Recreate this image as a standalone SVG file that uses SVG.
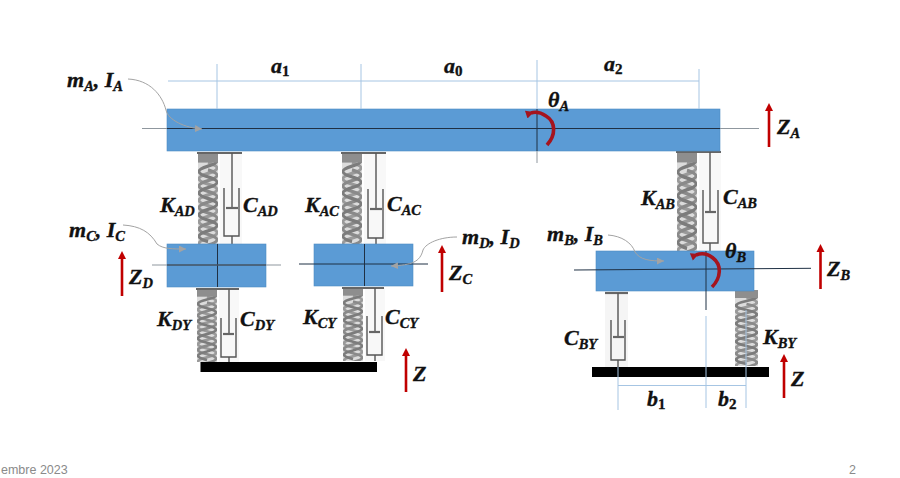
<svg xmlns="http://www.w3.org/2000/svg" xmlns:xlink="http://www.w3.org/1999/xlink" width="900" height="478" viewBox="0 0 900 478">
<style>
text{font-family:"Liberation Serif","DejaVu Serif",serif;font-weight:bold;font-style:italic;fill:#111;stroke:#111;stroke-width:.35px}
.m{font-size:22px}
.s{font-size:14.500px}
.n{font-size:15px;font-style:normal}
.foot{font-family:"Liberation Sans",Arial,sans-serif;font-weight:normal;font-style:normal;font-size:12.500px;fill:#8a8a8a;stroke:none}
.bar{fill:#5b9bd5;stroke:#4f8cc4;stroke-width:.6}
.dim{stroke:#a6c5e3;stroke-width:1;fill:none}
.axis{stroke:#1f3044;stroke-width:1;fill:none}
.axisg{stroke:#8f979e;stroke-width:1;fill:none}
.lead{stroke:#a3a3a3;stroke-width:1;fill:none;marker-end:url(#ga)}
.up{stroke:#c00000;stroke-width:2.6;fill:none;marker-end:url(#ra)}
.rot{stroke:#a5141e;stroke-width:3.6;fill:none;marker-end:url(#rb)}
.ground{fill:#000}
.dp{stroke:#555;stroke-width:1.4;fill:none}
.cap{stroke:#666;stroke-width:2.2;fill:none}
</style>
<defs>
<marker id="ga" markerWidth="9" markerHeight="8" refX="7" refY="3.5" orient="auto" markerUnits="userSpaceOnUse"><path d="M0 0L7 3.5L0 7z" fill="#a3a3a3"/></marker>
<marker id="ra" markerWidth="9" markerHeight="9" refX="1" refY="4.500" orient="auto" markerUnits="userSpaceOnUse"><path d="M0 0.500L8 4.500L0 8.500z" fill="#c00000"/></marker>
<marker id="rb" markerWidth="10" markerHeight="10" refX="3" refY="4" orient="auto" markerUnits="userSpaceOnUse"><path d="M0 4L8 0L8 8z" fill="#a5141e"/></marker>
<filter id="soft" x="-10%" y="-5%" width="120%" height="110%"><feGaussianBlur stdDeviation=".6"/></filter>
<symbol id="spring" viewBox="0 0 20 76" preserveAspectRatio="none" overflow="hidden">
<g filter="url(#soft)">
<rect x="0" y="0" width="20" height="76" fill="#dcdcdc"/>
<path d="M10 8Q28 12.500 10 17T10 26T10 35T10 44T10 53T10 62T10 71T10 80" fill="none" stroke="#9a9a9a" stroke-width="2.800"/>
<path d="M10 14Q28 18.500 10 23T10 32T10 41T10 50T10 59T10 68T10 77" fill="none" stroke="#8a8a8a" stroke-width="2.800"/>
<path d="M10 2Q28 6.500 10 11T10 20T10 29T10 38T10 47T10 56T10 65T10 74" fill="none" stroke="#7c7c7c" stroke-width="2.800"/>
<rect x="0" y="0" width="20" height="8" fill="#8e8e8e"/>
</g>
</symbol>
</defs>
<rect width="900" height="478" fill="#fff"/>

<g id="suspension">
<g id="spring-KAD"><use href="#spring" x="198" y="153" width="20" height="91"/></g>
<g id="damper-CAD"><rect x="220" y="153" width="22" height="91" fill="#f8f8f8"/><path class="cap" d="M197 153H242"/><path class="dp" d="M232 153V207M224 188V236H239V188M232 236V244"/><path class="cap" d="M226 208H238"/></g>
<g id="spring-KAC"><use href="#spring" x="342" y="153" width="20" height="91"/></g>
<g id="damper-CAC"><rect x="364" y="153" width="22" height="91" fill="#f8f8f8"/><path class="cap" d="M341 153H386"/><path class="dp" d="M376 153V208M368 189V238H383V189M376 238V244"/><path class="cap" d="M370 209H382"/></g>
<g id="spring-KAB"><use href="#spring" x="677" y="152" width="20" height="99"/></g>
<g id="damper-CAB"><rect x="699" y="152" width="22" height="99" fill="#f8f8f8"/><path class="cap" d="M676 152H721"/><path class="dp" d="M710 152V211M703 190V243H718V190M710 243V251"/><path class="cap" d="M705 212H716"/></g>
<g id="spring-KDY"><use href="#spring" x="197" y="289" width="20" height="73"/></g>
<g id="damper-CDY"><rect x="219" y="289" width="20" height="73" fill="#f8f8f8"/><path class="cap" d="M196 289H239"/><path class="dp" d="M229 289V333M221 318V357H236V318M229 357V362"/><path class="cap" d="M223 334H234"/></g>
<g id="spring-KCY"><use href="#spring" x="343" y="288" width="20" height="73"/></g>
<g id="damper-CCY"><rect x="365" y="288" width="20" height="73" fill="#f8f8f8"/><path class="cap" d="M342 288H384"/><path class="dp" d="M375 288V331M367 316V355H382V316M375 355V361"/><path class="cap" d="M369 332H380"/></g>
<g id="spring-KBY"><use href="#spring" x="735" y="290" width="23" height="76"/></g>
<g id="damper-CBY"><rect x="605" y="293" width="23" height="74" fill="#f5f5f5"/><path class="cap" d="M605 293H628"/><path class="dp" d="M618 293V336M611 320V360H625V320M618 360V367"/><path class="cap" d="M613 337H624"/></g>
</g>

<g id="bar-A"><rect class="bar" x="167" y="109" width="553" height="42"/></g>
<g id="bar-C"><rect class="bar" x="167" y="244" width="99" height="43"/></g>
<g id="bar-D"><rect class="bar" x="314" y="244" width="99" height="42"/></g>
<g id="bar-B"><rect class="bar" x="596" y="251" width="158" height="40"/></g>
<g id="ground-left"><rect class="ground" x="200.500" y="362" width="176.500" height="10"/></g>
<g id="ground-right"><rect class="ground" x="592" y="367" width="177" height="10"/></g>

<g id="connectors">
<path class="dim" d="M168 81H699M217 64V109M361 64V109M537 60V109M699 69V109"/>
<path class="dim" d="M618 385.500H746M618 367V410M706 316V408M746 310V408"/>
<path class="axis" d="M167 128.500H720M537 109V151M217.500 244V287"/>
<path class="axisg" d="M142 128.500H167M720 128.500H759M537 151V163M152 265H281"/>
<path class="axis" d="M167 265H266M299 264H428M364.500 244V286M574 270L811 268.300M706 251V310"/>
<path class="lead" d="M128 79C150 80 162 95 166 110C168 120 185 128 202 129"/>
<path class="lead" d="M123 225C140 226 150 232 157 244C163 249 172 249 186 249"/>
<path class="lead" d="M457 237C440 237 426 243 423 250C420 262 412 265 391 266"/>
<path class="lead" d="M608 235C622 236 632 243 635 252C640 260 650 261 664 261"/>
<path class="up" d="M769 147V110"/>
<path class="up" d="M820.500 289V251"/>
<path class="up" d="M122 296V258"/>
<path class="up" d="M442 292V252"/>
<path class="up" d="M406 392V355"/>
<path class="up" d="M784 398V361"/>
<path class="rot" d="M547 145C556 135 556 122 546 116C540 112 534 112 531 113"/>
<path class="rot" d="M712 287C721 278 722 265 713 258C707 253 701 253 696 255"/>
</g>

<g id="labels">
<text class="m" x="67" y="87">m<tspan class="s" dy="4">A</tspan><tspan dy="-4">, I</tspan><tspan class="s" dy="4">A</tspan></text>
<text class="m" x="271" y="73">a<tspan class="n" dy="3">1</tspan></text>
<text class="m" x="444" y="73">a<tspan class="n" dy="3">0</tspan></text>
<text class="m" x="604" y="71">a<tspan class="n" dy="3">2</tspan></text>
<text class="m" x="548" y="107">θ<tspan class="s" dy="4">A</tspan></text>
<text class="m" x="777" y="134">Z<tspan class="s" dy="4">A</tspan></text>
<text class="m" x="160" y="212">K<tspan class="s" dy="4">AD</tspan></text>
<text class="m" x="243" y="212">C<tspan class="s" dy="4">AD</tspan></text>
<text class="m" x="305" y="212">K<tspan class="s" dy="4">AC</tspan></text>
<text class="m" x="387" y="211">C<tspan class="s" dy="4">AC</tspan></text>
<text class="m" x="641" y="205">K<tspan class="s" dy="4">AB</tspan></text>
<text class="m" x="723" y="204">C<tspan class="s" dy="4">AB</tspan></text>
<text class="m" x="69" y="237">m<tspan class="s" dy="4">C</tspan><tspan dy="-4">, I</tspan><tspan class="s" dy="4">C</tspan></text>
<text class="m" x="462" y="244">m<tspan class="s" dy="4">D</tspan><tspan dy="-4">, I</tspan><tspan class="s" dy="4">D</tspan></text>
<text class="m" x="547" y="241">m<tspan class="s" dy="4">B</tspan><tspan dy="-4">, I</tspan><tspan class="s" dy="4">B</tspan></text>
<text class="m" x="725" y="258">θ<tspan class="s" dy="4">B</tspan></text>
<text class="m" x="827" y="276">Z<tspan class="s" dy="4">B</tspan></text>
<text class="m" x="129" y="284">Z<tspan class="s" dy="4">D</tspan></text>
<text class="m" x="449" y="280">Z<tspan class="s" dy="4">C</tspan></text>
<text class="m" x="157" y="326">K<tspan class="s" dy="4">DY</tspan></text>
<text class="m" x="240" y="326">C<tspan class="s" dy="4">DY</tspan></text>
<text class="m" x="303" y="324">K<tspan class="s" dy="4">CY</tspan></text>
<text class="m" x="385" y="324">C<tspan class="s" dy="4">CY</tspan></text>
<text class="m" x="413" y="381">Z</text>
<text class="m" x="564" y="345">C<tspan class="s" dy="4">BY</tspan></text>
<text class="m" x="763" y="344">K<tspan class="s" dy="4">BY</tspan></text>
<text class="m" x="791" y="386">Z</text>
<text class="m" x="647" y="406">b<tspan class="n" dy="3">1</tspan></text>
<text class="m" x="718" y="406">b<tspan class="n" dy="3">2</tspan></text>
<text class="foot" x="1" y="474">embre 2023</text>
<text class="foot" x="849" y="474">2</text>
</g>
</svg>
